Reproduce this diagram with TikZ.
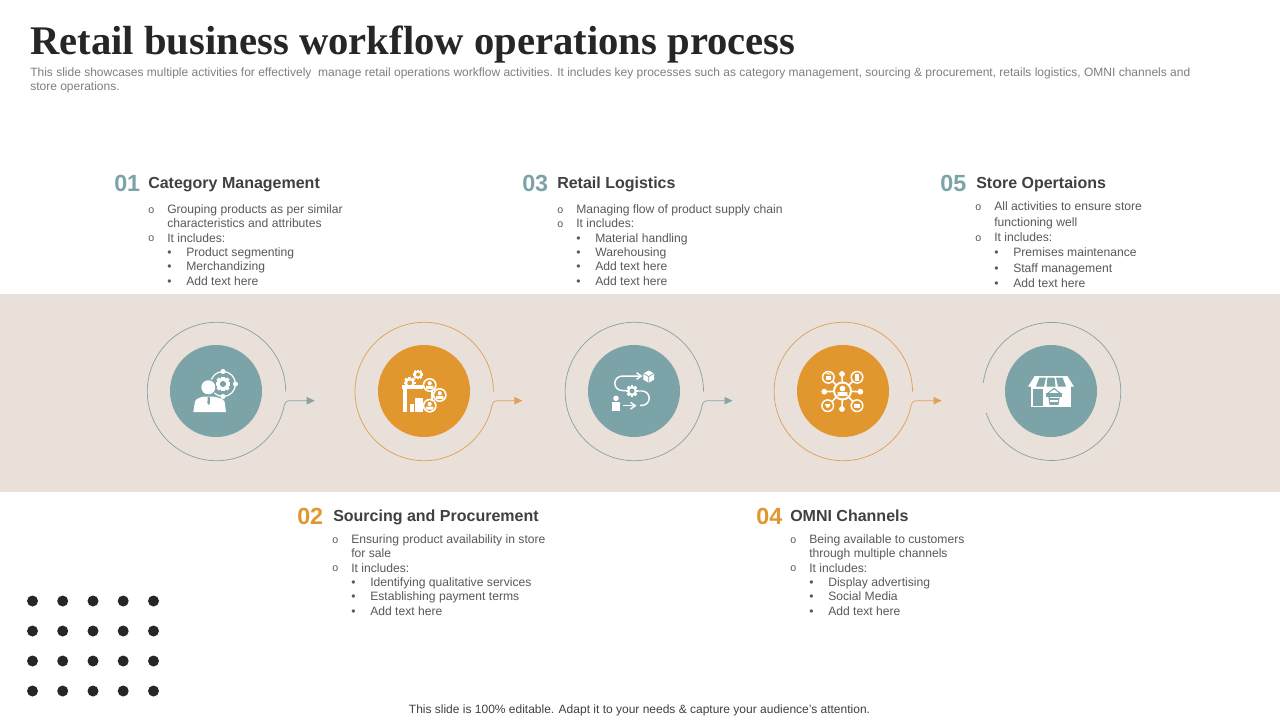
\documentclass[tikz,border=0pt]{standalone}
\usepackage{fontspec}
\setmainfont{Liberation Sans}
\newfontfamily\titlefont{Liberation Serif}
\usetikzlibrary{arrows.meta}
\definecolor{tealc}{HTML}{7CA3A7}
\definecolor{orangec}{HTML}{E2962E}
\definecolor{tealr}{HTML}{8AA3A5}
\definecolor{oranger}{HTML}{DFA158}
\definecolor{bandc}{HTML}{E9E0DA}
\definecolor{bodyc}{HTML}{595959}
\definecolor{subc}{HTML}{7F7F7F}
\definecolor{headc}{HTML}{404040}
\definecolor{dotc}{HTML}{262626}
\newcommand{\lvA}{\makebox[14.25pt][l]{\fontsize{8}{8}\selectfont\raisebox{0.2pt}{o}}}
\newcommand{\lvB}{\makebox[14.25pt][l]{}\makebox[14.25pt][l]{•}}
\newcommand{\lvC}{\makebox[14.25pt][l]{}}
\newcommand{\mygear}[5]{% x y r fill hole
  \foreach \a in {0,45,...,315}{
    \fill[#4,shift={(#1,#2)},rotate=\a] ({-0.28*#3},{-1.2*#3}) rectangle ({0.28*#3},{1.2*#3});}
  \fill[#4] (#1,#2) circle[radius=#3];
  \fill[#5] (#1,#2) circle[radius={0.5*#3}];}
\newcommand{\mybust}[4]{% x y r bg : white disc with person
  \fill[white] (#1,#2) circle[radius=#3];
  \fill[#4] (#1,#2) circle[radius={0.78*#3}];
  \fill[white] (#1,{#2-0.25*#3}) circle[radius={0.3*#3}];
  \fill[white] ({#1-0.55*#3},{#2+0.55*#3}) -- ({#1-0.5*#3},{#2+0.12*#3}) -- ({#1+0.5*#3},{#2+0.12*#3}) -- ({#1+0.55*#3},{#2+0.55*#3}) -- cycle;}
\tikzset{
  x=0.75pt,y=-0.75pt,
  titlet/.style={inner sep=0pt,anchor=base west,font=\titlefont\bfseries\fontsize{30.5}{34}\selectfont,text=dotc},
  subt/.style={inner sep=0pt,anchor=north west,align=left,font=\fontsize{9}{10.6}\selectfont,text=subc},
  numt/.style={inner sep=0pt,anchor=base west,font=\bfseries\fontsize{17.5}{20}\selectfont},
  headt/.style={inner sep=0pt,anchor=base west,font=\bfseries\fontsize{12}{14}\selectfont,text=headc},
  bodyt/.style={inner sep=0pt,anchor=north west,align=left,font=\fontsize{9.1}{10.8}\selectfont,text=bodyc},
  bodyw/.style={bodyt,font=\fontsize{9.1}{11.6}\selectfont},
  ringl/.style={line width=0.55pt},
  arr/.style={-{Triangle[length=6pt,width=5.5pt]}},
  disc/.style={circle,minimum size=69pt,inner sep=0pt},
}
\newcommand{\ringarrow}[3]{%
  \coordinate (ringstart#3) at ({#1+69.2},391.5);
  \coordinate (tip#3) at ({#1+98.2},400.7);
  \draw[#2,ringl,arr] (ringstart#3) arc[start angle=0,end angle=-348.7,radius=69.2] .. controls ({#1+69.5},400.5) and ({#1+71},400.7) .. ({#1+77},400.7) -- (tip#3);}
\begin{document}
\begin{tikzpicture}
\useasboundingbox (0,0) rectangle (1280,720);
\fill[white] (0,0) rectangle (1280,720);
\fill[bandc] (0,294) rectangle (1280,491.5);

\node[titlet] (title) at (30,54.5) {Retail business workflow operations process};
\node[subt] (subtitle) at (30,66.5) {\strut This slide showcases multiple activities for effectively\ \ manage retail operations workflow activities. It includes key processes such as category management, sourcing \& procurement, retails logistics, OMNI channels and\\store operations.};

% headings
\node[numt,text=tealc] (n1) at (114,191.5) {01};
\node[headt] (h1) at (148,188.5) {Category Management};
\node[bodyt] (b1) at (148,203) {\strut\lvA Grouping products as per similar\\\lvC characteristics and attributes\\\lvA It includes:\\\lvB Product segmenting\\\lvB Merchandizing\\\lvB Add text here};
\node[numt,text=tealc] (n3) at (522,191.5) {03};
\node[headt] (h3) at (557,188.5) {Retail Logistics};
\node[bodyt] (b3) at (557,203) {\strut\lvA Managing flow of product supply chain\\\lvA It includes:\\\lvB Material handling\\\lvB Warehousing\\\lvB Add text here\\\lvB Add text here};
\node[numt,text=tealc] (n5) at (940,191.5) {05};
\node[headt] (h5) at (976,188.5) {Store Opertaions};
\node[bodyw] (b5) at (975,199.5) {\strut\lvA All activities to ensure store\\\lvC functioning well\\\lvA It includes:\\\lvB Premises maintenance\\\lvB Staff management\\\lvB Add text here};
\node[numt,text=orangec] (n2) at (297,524.5) {02};
\node[headt] (h2) at (333,521.5) {Sourcing and Procurement};
\node[bodyt] (b2) at (332,533) {\strut\lvA Ensuring product availability in store\\\lvC for sale\\\lvA It includes:\\\lvB Identifying qualitative services\\\lvB Establishing payment terms\\\lvB Add text here};
\node[numt,text=orangec] (n4) at (756,524.5) {04};
\node[headt] (h4) at (790,521.5) {OMNI Channels};
\node[bodyt] (b4) at (790,533) {\strut\lvA Being available to customers\\\lvC through multiple channels\\\lvA It includes:\\\lvB Display advertising\\\lvB Social Media\\\lvB Add text here};

% rings and arrows
\ringarrow{216.5}{tealr}{1}
\ringarrow{424.2}{oranger}{2}
\ringarrow{634.3}{tealr}{3}
\ringarrow{843.3}{oranger}{4}
\coordinate (ringstart5) at (983.3,382.7);
\draw[tealr,ringl] (ringstart5) arc[start angle=187.3,end angle=521.7,radius=69];

% discs
\node[disc,fill=tealc] (d1) at (216,391) {};
\node[disc,fill=orangec] (d2) at (424,391) {};
\node[disc,fill=tealc] (d3) at (634,391) {};
\node[disc,fill=orangec] (d4) at (843,391) {};
\node[disc,fill=tealc] (d5) at (1051,391) {};

% icon 1
\draw[white,line width=0.9pt] (223,384) circle[radius=12.5];
\foreach \p in {(223,371.5),(235.5,384),(223,396.5)}{\fill[white] \p circle[radius=2.5];}
\mygear{223}{384}{6.2}{white}{tealc}
\fill[tealc] (208.3,387.3) circle[radius=8.3];
\fill[white] (208.3,387.3) circle[radius=7];
\fill[white] (193.3,412) -- (195,401.5) .. controls (196,398.5) and (200,397.5) .. (204,396.5) -- (213,396.5) .. controls (218,397.5) and (223,398.5) .. (224.5,401.5) -- (226,412) -- cycle;
\fill[tealc] (207.7,397) -- (209.7,397) -- (210,403) -- (208.7,405) -- (207.4,403) -- cycle;

% icon 2
\fill[white] (402,385) rectangle (423,388.5);
\fill[white] (403.3,388) rectangle (406.5,412);
\fill[white] (409.7,404) rectangle (418,412);
\fill[white] (414.7,397.5) rectangle (423,412);
\fill[orangec] (414.2,403.5) rectangle (415.2,412);
\mygear{418}{374.5}{4}{white}{orangec}
\begin{scope}
\clip (400,372) rectangle (420,384.3);
\mygear{409.7}{383}{5}{white}{orangec}
\end{scope}
\fill[white] (431,391) rectangle (432.5,400);
\mybust{429.7}{385}{7}{orangec}
\mybust{439.7}{395}{7}{orangec}
\mybust{429.7}{405.7}{7}{orangec}

% icon 3
\draw[white,line width=1.1pt,-{Straight Barb[length=3.5pt,width=5pt]}] (632,391) -- (622,390.5) arc[start angle=90,end angle=270,radius=7.2] -- (642.5,376);
\draw[white,line width=1.1pt] (632,391) -- (642,391) arc[start angle=-90,end angle=90,radius=7.2] -- (640,405.4);
\draw[white,line width=1.1pt,-{Straight Barb[length=3.5pt,width=5pt]}] (623,405.7) -- (636.5,405.7);
\mygear{632}{391}{5}{white}{tealc}
\fill[white] (648.7,370.5) -- (654,373.5) -- (654,379.7) -- (648.7,382.8) -- (643.4,379.7) -- (643.4,373.5) -- cycle;
\draw[tealc,line width=0.5pt] (643.4,373.5) -- (648.7,376.6) -- (654,373.5) (648.7,376.6) -- (648.7,382.8);
\fill[white] (616,398.3) circle[radius=2.8];
\fill[white] (612,401.7) rectangle (620.3,410.7);

% icon 4
\foreach \e in {(842,374),(842,409),(824.3,391.7),(860.3,391.7),(828.3,377.3),(857,377.3),(827.7,405.7),(857,405.7)}{
  \draw[white,line width=1.2pt] (842.5,391) -- \e;}
\foreach \e in {(842,374),(842,409),(824.3,391.7),(860.3,391.7)}{\fill[white] \e circle[radius=2.9];}
\foreach \e in {(828.3,377.3),(857,377.3),(827.7,405.7),(857,405.7)}{
  \fill[orangec] \e circle[radius=5.8];
  \draw[white,line width=1.1pt] \e circle[radius=5.8];}
\fill[white] (825.6,375.5) rectangle (831,379.7);
\fill[white] (825,374) -- (828.3,372.8) -- (831.6,374.6) -- cycle;
\fill[white] (855,374) rectangle (859,380.5);
\fill[white] (825,404) -- (830.5,404) -- (829,407.5) -- (826.5,407.5) -- cycle;
\fill[white] (854.2,404) rectangle (859.8,407.5);
\mybust{842.5}{391}{9.5}{orangec}

% icon 5
\fill[white] (1031.3,386) rectangle (1070.7,406.8);
\fill[tealc] (1033.4,389) rectangle (1043,405.7);
\fill[white] (1034.7,376) -- (1067.3,376) -- (1074,386.7) -- (1028,386.7) -- cycle;
\fill[tealc] (1039.5,377.5) -- (1046,377.5) -- (1044,386.5) -- (1036,386.5) -- cycle;
\fill[tealc] (1047.5,377.5) -- (1054.5,377.5) -- (1055.5,386.5) -- (1046.5,386.5) -- cycle;
\fill[tealc] (1056,377.5) -- (1062.5,377.5) -- (1066,386.5) -- (1058,386.5) -- cycle;
\fill[tealc] (1048,394) -- (1060,394) -- (1058.5,404.8) -- (1049.5,404.8) -- cycle;
\fill[tealc] (1046,393) rectangle (1062,397);
\draw[tealc,line width=0.8pt] (1047.5,393.5) -- (1054,388.5) -- (1060.5,393.5);
\fill[white] (1049.5,397) rectangle (1058.5,398.4);
\fill[white] (1050,400.3) rectangle (1058,401.7);

% dots
\foreach \x in {32.5,62.7,93,123.2,153.5}{\foreach \y in {601,631,661,691}{\fill[dotc] (\x,\y) circle[radius=5.5];}}

\node[inner sep=0pt,font=\fontsize{9}{11}\selectfont,text=headc] (footer) at (639.5,710) {This slide is 100\% editable. Adapt it to your needs \& capture your audience’s attention.};
\end{tikzpicture}
\end{document}
